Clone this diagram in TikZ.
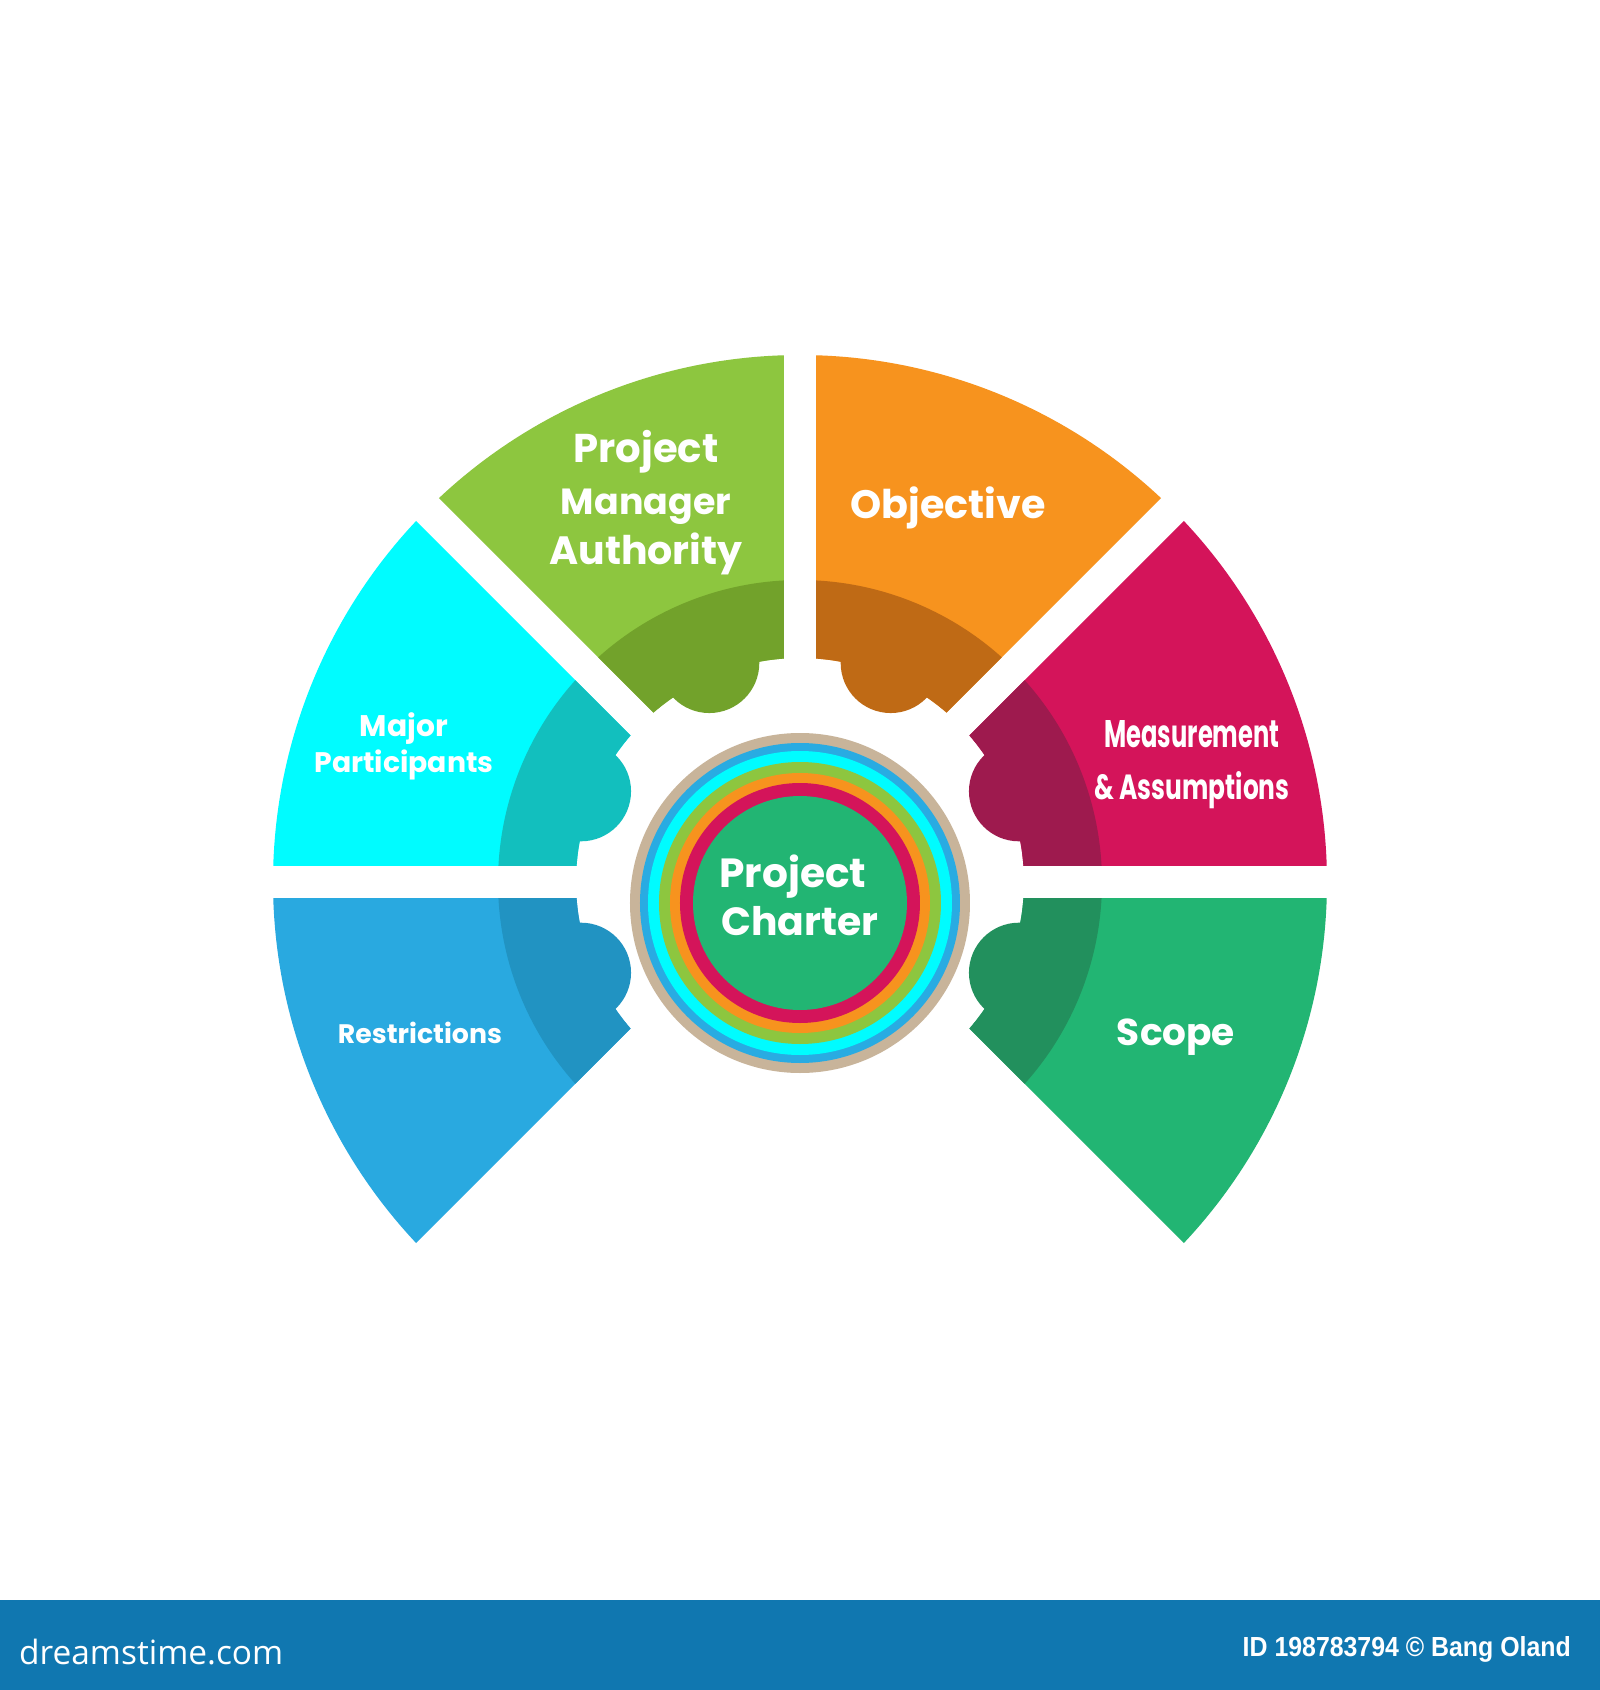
\documentclass[tikz,border=0pt]{standalone}
\usepackage{fontspec}
\setmainfont{Poppins}
\newfontfamily\barfont{Liberation Sans}
\newfontfamily\logofont{Open Sans}
\usepackage{graphicx}
\definecolor{cyanL}{HTML}{00FCFF}
\definecolor{cyanD}{HTML}{12BFBE}
\definecolor{grnL}{HTML}{8DC63F}
\definecolor{grnD}{HTML}{72A22B}
\definecolor{orgL}{HTML}{F7931E}
\definecolor{orgD}{HTML}{BF6A15}
\definecolor{magL}{HTML}{D4145A}
\definecolor{magD}{HTML}{9E1A4E}
\definecolor{scoL}{HTML}{22B573}
\definecolor{scoD}{HTML}{22905D}
\definecolor{bluL}{HTML}{29A9E0}
\definecolor{bluD}{HTML}{2193C2}
\definecolor{tanR}{HTML}{C8B49A}
\definecolor{ringBlue}{HTML}{29ABE2}
\definecolor{barC}{HTML}{1077B0}
\tikzset{
  lbl/.style={text=white, font=\bfseries, inner sep=0pt, anchor=base},
}
\begin{document}
\begin{tikzpicture}[x=1pt,y=1pt]
\useasboundingbox (-800,-808) rectangle (800,882);
\fill[white] (-800,-808) rectangle (800,882);
% pieces
\foreach \a/\cl/\cd in {180/bluL/bluD, 135/cyanL/cyanD, 90/grnL/grnD, 45/orgL/orgD, 0/magL/magD, -45/scoL/scoD}{
  \fill[\cl] ({\a+1.76}:527) arc[start angle={\a+1.76}, end angle={\a+45-1.76}, radius=527]
     -- ({\a+45-4.15}:224) arc[start angle={\a+45-4.15}, end angle={\a+4.15}, radius=224] -- cycle;
  \fill[\cd] ({\a+3.07}:302) arc[start angle={\a+3.07}, end angle={\a+45-3.07}, radius=302]
     -- ({\a+45-4.15}:224) arc[start angle={\a+45-4.15}, end angle={\a+4.15}, radius=224] -- cycle;
  \fill[\cd] ({\a+22.5}:237) circle[radius=50];
}
% centre rings
\fill[tanR] (0,-21) circle[radius=170];
\fill[ringBlue] (0,-21) circle[radius=160];
\fill[cyanL] (0,-21) circle[radius=152];
\fill[grnL] (0,-21) circle[radius=141];
\fill[orgL] (0,-21) circle[radius=130];
\fill[magL] (0,-21) circle[radius=120];
\fill[scoL] (0,-21) circle[radius=107];
% labels
\node[lbl] (pma1) at (-154,419) {\resizebox{145pt}{!}{Project}};
\node[lbl] (pma2) at (-154,367) {\resizebox{170pt}{!}{Manager}};
\node[lbl] (pma3) at (-154,317) {\resizebox{193pt}{!}{Authority}};
\node[lbl] (obj) at (148,363) {\resizebox{195pt}{!}{Objective}};
\node[lbl] (maj1) at (-396,146) {\resizebox{88pt}{!}{Major}};
\node[lbl] (maj2) at (-396,110) {\resizebox{179pt}{!}{Participants}};
\node[lbl] (mea1) at (392,135) {\resizebox{175pt}{27pt}{Measurement}};
\node[lbl] (mea2) at (392,83) {\resizebox{195pt}{28pt}{\& Assumptions}};
\node[lbl] (res) at (-380,-161) {\resizebox{164pt}{!}{Restrictions}};
\node[lbl] (sco) at (376,-163) {\resizebox{118pt}{!}{Scope}};
\node[lbl] (pc1) at (-7,-5) {\resizebox{147pt}{!}{Project}};
\node[lbl] (pc2) at (0,-53) {\resizebox{157pt}{!}{Charter}};
% bottom bar
\fill[barC] (-800,-718) rectangle (800,-808);
\node[text=white, inner sep=0pt, anchor=base west] (logo) at (-781,-782) {\resizebox{264pt}{!}{\logofont dreamstime.com}};
\node[text=white, inner sep=0pt, anchor=base east] (credit) at (771,-774) {\resizebox{328pt}{20pt}{\barfont\bfseries ID 198783794 © Bang Oland}};
\end{tikzpicture}
\end{document}
